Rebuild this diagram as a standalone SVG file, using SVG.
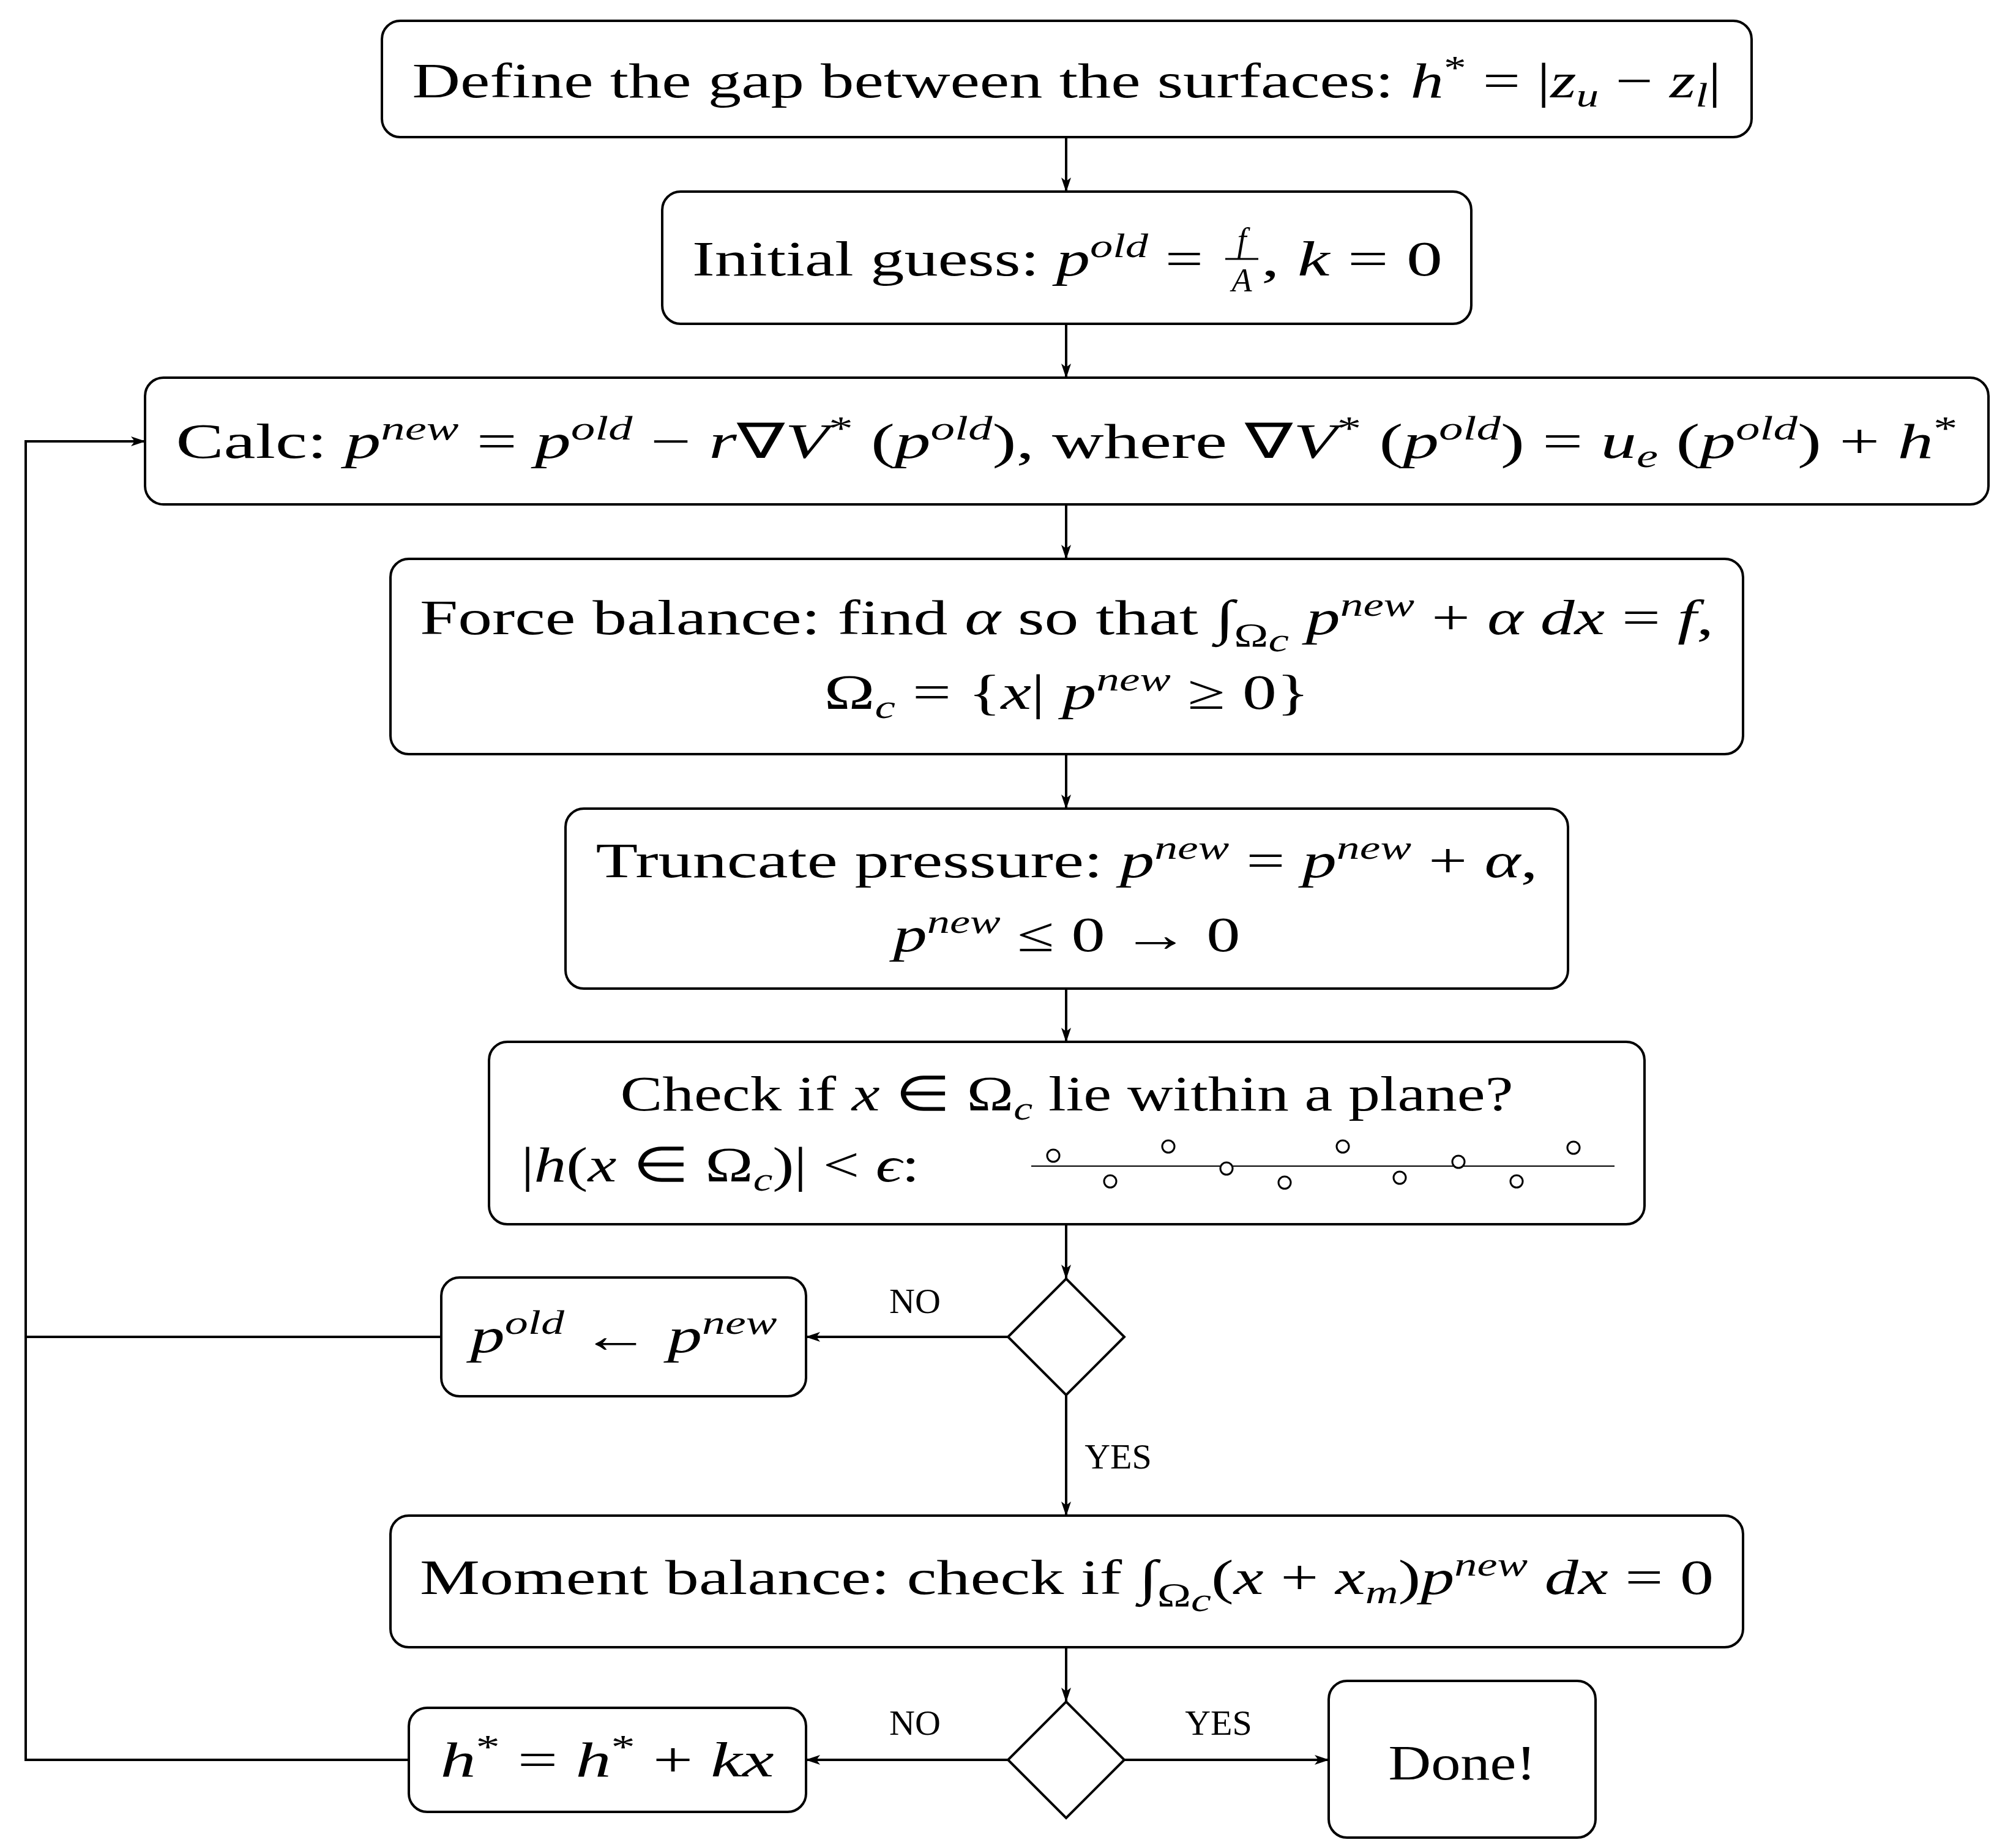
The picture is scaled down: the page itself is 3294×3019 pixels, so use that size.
<svg xmlns="http://www.w3.org/2000/svg" width="3294" height="3019" viewBox="0 0 3294 3019">
<style>
.b{fill:#fff;stroke:#000;stroke-width:4}
.t{font-family:"Liberation Serif",serif;font-size:80px;text-anchor:middle}
.st{text-anchor:start}
.i{font-style:italic}
.s{font-size:54px}
.l{font-family:"Liberation Serif",serif;font-size:58px;text-anchor:middle}
.c{fill:none;stroke:#000;stroke-width:4}
</style>
<defs>
<marker id="a" viewBox="0 0 24 16" refX="23" refY="8" markerWidth="24" markerHeight="16" markerUnits="userSpaceOnUse" orient="auto">
<path d="M0,0 L24,8 L0,16 L6,8 Z" fill="#000"/>
</marker>
</defs>
<g id="connectors">
<path class="c" d="M1742,224 V313" marker-end="url(#a)"/>
<path class="c" d="M1742,529 V617" marker-end="url(#a)"/>
<path class="c" d="M1742,824 V913" marker-end="url(#a)"/>
<path class="c" d="M1742,1232 V1321" marker-end="url(#a)"/>
<path class="c" d="M1742,1615 V1702" marker-end="url(#a)"/>
<path class="c" d="M1742,2000 V2089" marker-end="url(#a)"/>
<path class="c" d="M1647,2184 H1317" marker-end="url(#a)"/>
<path class="c" d="M1742,2279 V2476" marker-end="url(#a)"/>
<path class="c" d="M721,2184 H42 V721 H237" marker-end="url(#a)"/>
<path class="c" d="M1742,2691 V2780" marker-end="url(#a)"/>
<path class="c" d="M1647,2875 H1317" marker-end="url(#a)"/>
<path class="c" d="M1837,2875 H2171" marker-end="url(#a)"/>
<path class="c" d="M668,2875 H42 V2184"/>
<text class="l" x="1495" y="2145">NO</text>
<text class="l" x="1827" y="2399">YES</text>
<text class="l" x="1495" y="2834">NO</text>
<text class="l" x="1991" y="2834">YES</text>
</g>
<g id="n1"><rect class="b" x="624" y="34" width="2238" height="190" rx="30"/>
<text class="t" x="1743" y="159" textLength="2139" lengthAdjust="spacingAndGlyphs">Define the gap between the surfaces: <tspan class="i">h</tspan><tspan class="s" dy="-30">*</tspan><tspan dy="30"> = |</tspan><tspan class="i">z</tspan><tspan class="s i" dy="15">u</tspan><tspan dy="-15"> − </tspan><tspan class="i">z</tspan><tspan class="s i" dy="15">l</tspan><tspan dy="-15">|</tspan></text></g>
<g id="n2"><rect class="b" x="1082" y="313" width="1322" height="216" rx="30"/>
<text class="t st" x="1131" y="450" textLength="835" lengthAdjust="spacingAndGlyphs">Initial guess: <tspan class="i">p</tspan><tspan class="s i" dy="-30">old</tspan><tspan dy="30"> =</tspan></text>
<text class="t st" x="2061" y="450" textLength="296" lengthAdjust="spacingAndGlyphs">, <tspan class="i">k</tspan> = 0</text>
<text class="t i s" x="2029" y="410">f</text><line x1="2002" y1="423" x2="2056" y2="423" stroke="#000" stroke-width="3"/><text class="t i s" x="2029" y="476">A</text></g>
<g id="n3"><rect class="b" x="237" y="617" width="3012" height="207" rx="30"/>
<text class="t" x="1743" y="748" textLength="2911" lengthAdjust="spacingAndGlyphs">Calc: <tspan class="i">p</tspan><tspan class="s i" dy="-30">new</tspan><tspan dy="30"> = </tspan><tspan class="i">p</tspan><tspan class="s i" dy="-30">old</tspan><tspan dy="30"> − </tspan><tspan class="i">r</tspan>∇<tspan class="i">V</tspan><tspan class="s" dy="-30">*</tspan><tspan dy="30"> (</tspan><tspan class="i">p</tspan><tspan class="s i" dy="-30">old</tspan><tspan dy="30">),  where  ∇</tspan><tspan class="i">V</tspan><tspan class="s" dy="-30">*</tspan><tspan dy="30"> (</tspan><tspan class="i">p</tspan><tspan class="s i" dy="-30">old</tspan><tspan dy="30">) = </tspan><tspan class="i">u</tspan><tspan class="s i" dy="15">e</tspan><tspan dy="-15"> (</tspan><tspan class="i">p</tspan><tspan class="s i" dy="-30">old</tspan><tspan dy="30">) + </tspan><tspan class="i">h</tspan><tspan class="s" dy="-30">*</tspan></text></g>
<g id="n4"><rect class="b" x="638" y="913" width="2210" height="319" rx="30"/>
<text class="t" x="1743" y="1036" textLength="2114" lengthAdjust="spacingAndGlyphs">Force balance: find <tspan class="i">α</tspan> so that ∫<tspan class="s" dy="20">Ω</tspan><tspan class="s i" dy="8">c</tspan><tspan dy="-28"> </tspan><tspan class="i">p</tspan><tspan class="s i" dy="-30">new</tspan><tspan dy="30"> + </tspan><tspan class="i">α dx</tspan> = <tspan class="i">f</tspan>,</text>
<text class="t" x="1743" y="1158" textLength="793" lengthAdjust="spacingAndGlyphs">Ω<tspan class="s i" dy="15">c</tspan><tspan dy="-15"> = {</tspan><tspan class="i">x</tspan>| <tspan class="i">p</tspan><tspan class="s i" dy="-30">new</tspan><tspan dy="30"> ≥ 0}</tspan></text></g>
<g id="n5"><rect class="b" x="924" y="1321" width="1638" height="294" rx="30"/>
<text class="t" x="1743" y="1433" textLength="1539" lengthAdjust="spacingAndGlyphs">Truncate pressure: <tspan class="i">p</tspan><tspan class="s i" dy="-30">new</tspan><tspan dy="30"> = </tspan><tspan class="i">p</tspan><tspan class="s i" dy="-30">new</tspan><tspan dy="30"> + </tspan><tspan class="i">α</tspan>,</text>
<text class="t" x="1743" y="1554" textLength="567" lengthAdjust="spacingAndGlyphs"><tspan class="i">p</tspan><tspan class="s i" dy="-30">new</tspan><tspan dy="30"> ≤ 0 → 0</tspan></text></g>
<g id="n6"><rect class="b" x="799" y="1702" width="1888" height="298" rx="30"/>
<text class="t" x="1743" y="1814" textLength="1459" lengthAdjust="spacingAndGlyphs">Check if <tspan class="i">x</tspan> ∈ Ω<tspan class="s i" dy="15">c</tspan><tspan dy="-15"> lie within a plane?</tspan></text>
<text class="t" x="1177" y="1930" textLength="651" lengthAdjust="spacingAndGlyphs">|<tspan class="i">h</tspan>(<tspan class="i">x</tspan> ∈ Ω<tspan class="s i" dy="15">c</tspan><tspan dy="-15">)| &lt; </tspan><tspan class="i">ϵ</tspan>:</text>
<line x1="1685" y1="1905" x2="2638" y2="1905" stroke="#000" stroke-width="2"/>
<g fill="#fff" stroke="#000" stroke-width="3">
<circle cx="1721" cy="1888" r="10"/><circle cx="1814" cy="1930" r="10"/><circle cx="1909" cy="1873" r="10"/><circle cx="2004" cy="1909" r="10"/><circle cx="2099" cy="1932" r="10"/><circle cx="2194" cy="1873" r="10"/><circle cx="2287" cy="1924" r="10"/><circle cx="2383" cy="1898" r="10"/><circle cx="2478" cy="1930" r="10"/><circle cx="2571" cy="1875" r="10"/></g></g>
<g id="d1"><path class="b" d="M1742,2089 L1837,2184 L1742,2279 L1647,2184 Z"/></g>
<g id="n7"><rect class="b" x="721" y="2087" width="596" height="194" rx="30"/>
<text class="t" x="1019" y="2209" textLength="501" lengthAdjust="spacingAndGlyphs"><tspan class="i">p</tspan><tspan class="s i" dy="-30">old</tspan><tspan dy="30"> ← </tspan><tspan class="i">p</tspan><tspan class="s i" dy="-30">new</tspan></text></g>
<g id="n8"><rect class="b" x="638" y="2476" width="2210" height="215" rx="30"/>
<text class="t" x="1743" y="2604" textLength="2114" lengthAdjust="spacingAndGlyphs">Moment balance: check if ∫<tspan class="s" dy="20">Ω</tspan><tspan class="s i" dy="8">c</tspan><tspan dy="-28">(</tspan><tspan class="i">x</tspan> + <tspan class="i">x</tspan><tspan class="s i" dy="15">m</tspan><tspan dy="-15">)</tspan><tspan class="i">p</tspan><tspan class="s i" dy="-30">new</tspan><tspan dy="30"> </tspan><tspan class="i">dx</tspan> = 0</text></g>
<g id="d2"><path class="b" d="M1742,2780 L1837,2875 L1742,2970 L1647,2875 Z"/></g>
<g id="n9"><rect class="b" x="668" y="2790" width="649" height="170" rx="30"/>
<text class="t" x="992" y="2902" textLength="545" lengthAdjust="spacingAndGlyphs"><tspan class="i">h</tspan><tspan class="s" dy="-30">*</tspan><tspan dy="30"> = </tspan><tspan class="i">h</tspan><tspan class="s" dy="-30">*</tspan><tspan dy="30"> + </tspan><tspan class="i">kx</tspan></text></g>
<g id="n10"><rect class="b" x="2171" y="2746" width="436" height="256" rx="30"/>
<text class="t" x="2389" y="2907" textLength="241" lengthAdjust="spacingAndGlyphs">Done!</text></g>
</svg>
